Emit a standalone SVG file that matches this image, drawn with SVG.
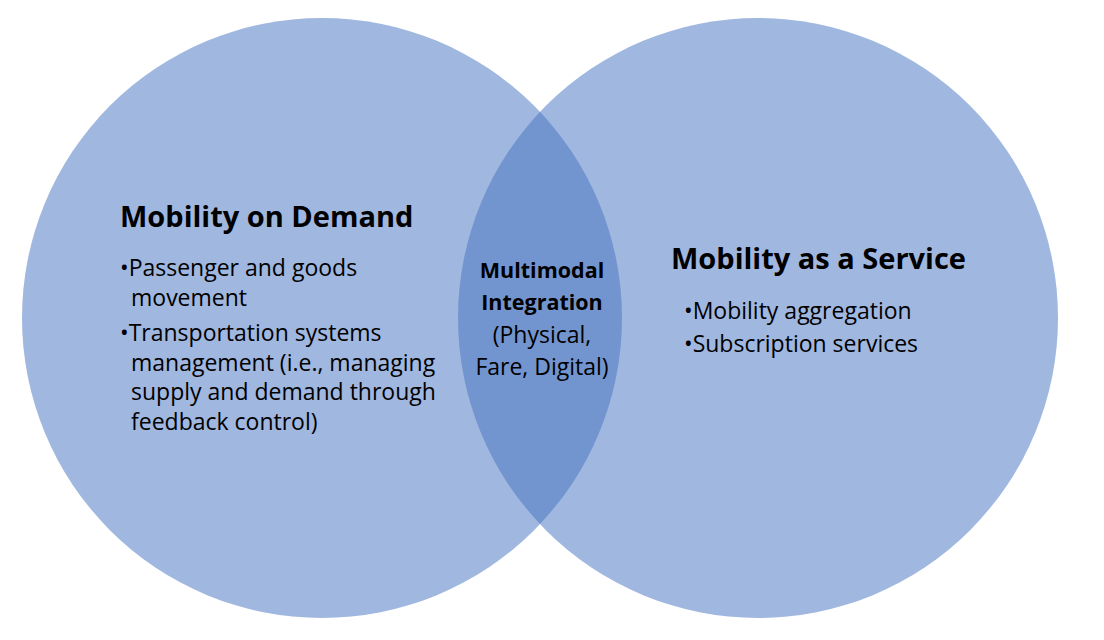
<svg xmlns="http://www.w3.org/2000/svg" width="1104" height="640" viewBox="0 0 1104 640">
<style>
.c{fill:#a0b7e0}
.i{fill:#7395cf}
text{font-family:"Open Sans","Liberation Sans",sans-serif;fill:#000}
.h{font-size:29px;font-weight:bold}
.b{font-size:23px}
.m{font-size:23px;text-anchor:middle}
.mb{font-size:21.5px;font-weight:bold;text-anchor:middle}
</style>
<defs>
<clipPath id="cl"><circle cx="322" cy="318" r="300"/></clipPath>
</defs>
<rect width="1104" height="640" fill="#fff"/>
<g id="left"><circle class="c" cx="322" cy="318" r="300"/></g>
<g id="right"><circle class="c" cx="758" cy="318" r="300"/></g>
<g id="overlap"><circle class="i" cx="758" cy="318" r="300" clip-path="url(#cl)"/></g>
<g id="left-text">
<text class="h" x="120" y="227">Mobility on Demand</text>
<text class="b" x="120" y="276">•Passenger and goods</text>
<text class="b" x="131" y="306">movement</text>
<text class="b" x="120" y="341">•Transportation systems</text>
<text class="b" x="131" y="371">management (i.e., managing</text>
<text class="b" x="131" y="400">supply and demand through</text>
<text class="b" x="131" y="430">feedback control)</text>
</g>
<g id="mid-text">
<text class="mb" x="542" y="278">Multimodal</text>
<text class="mb" x="542" y="310">Integration</text>
<text class="m" x="542" y="343">(Physical,</text>
<text class="m" x="542" y="375">Fare, Digital)</text>
</g>
<g id="right-text">
<text class="h" x="671" y="269">Mobility as a Service</text>
<text class="b" x="684" y="319">•Mobility aggregation</text>
<text class="b" x="684" y="352">•Subscription services</text>
</g>
</svg>
